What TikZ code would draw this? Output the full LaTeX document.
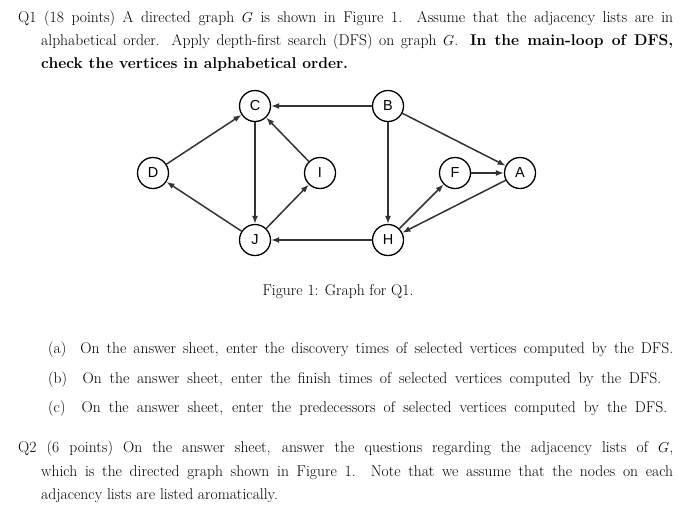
\documentclass[tikz,border=0pt]{standalone}
\usepackage{fontspec}
\newfontfamily\nodefont{Liberation Sans}
\usetikzlibrary{arrows.meta}
\begin{document}
\begin{tikzpicture}[x=1pt,y=-1pt,
  vtx/.style={circle,draw,line width=1.3pt,minimum size=31pt,inner sep=0pt,font=\nodefont\fontsize{14.5}{14.5}\selectfont},
  edge/.style={line width=1.5pt,draw=black!80,-{Latex[length=8pt,width=6pt]}},
  ln/.style={anchor=base west,inner sep=0pt,font=\fontsize{15.6}{18}\selectfont}]
\useasboundingbox (0,0) rectangle (690,512);
\node[ln] (l1) at (18,22) {\makebox[655pt][s]{Q1 (18 points) A directed graph $G$ is shown in Figure 1. Assume that the adjacency lists are in}};
\node[ln] (l2) at (41,45) {\makebox[632pt][s]{alphabetical order. Apply depth-first search (DFS) on graph $G$. \textbf{In the main-loop of DFS,}}};
\node[ln] (l3) at (41,68) {\textbf{check the vertices in alphabetical order.}};
\node[vtx] (C) at (255,106) {C};
\node[vtx] (B) at (388,106) {B};
\node[vtx] (D) at (153,173) {D};
\node[vtx] (I) at (320,173) {I};
\node[vtx] (F) at (455,173) {F};
\node[vtx] (A) at (520,173) {A};
\node[vtx] (J) at (255,240) {J};
\node[vtx] (H) at (388,240) {H};
\draw[edge] (D) -- (C);
\draw[edge] (C) -- (J);
\draw[edge] (I) -- (C);
\draw[edge] (J) -- (I);
\draw[edge] (J) -- (D);
\draw[edge] (B) -- (C);
\draw[edge] (B) -- (H);
\draw[edge] (B) -- (A);
\draw[edge] (F) -- (A);
\draw[edge] (H) -- (F);
\draw[edge] (A) -- (H);
\draw[edge] (H) -- (J);
\node[ln,anchor=base] (cap) at (338,295) {Figure 1: Graph for Q1.};
\node[ln] (a) at (48,353) {\makebox[625pt][s]{(a)\ \ On the answer sheet, enter the discovery times of selected vertices computed by the DFS.}};
\node[ln] (b) at (48,383) {\makebox[613pt][s]{(b)\ \ On the answer sheet, enter the finish times of selected vertices computed by the DFS.}};
\node[ln] (c) at (48,412) {\makebox[619pt][s]{(c)\ \ On the answer sheet, enter the predecessors of selected vertices computed by the DFS.}};
\node[ln] (m1) at (18,452) {\makebox[655pt][s]{Q2 (6 points) On the answer sheet, answer the questions regarding the adjacency lists of $G$,}};
\node[ln] (m2) at (41,476) {\makebox[632pt][s]{which is the directed graph shown in Figure 1. Note that we assume that the nodes on each}};
\node[ln] (m3) at (41,499) {adjacency lists are listed aromatically.};
\end{tikzpicture}
\end{document}
